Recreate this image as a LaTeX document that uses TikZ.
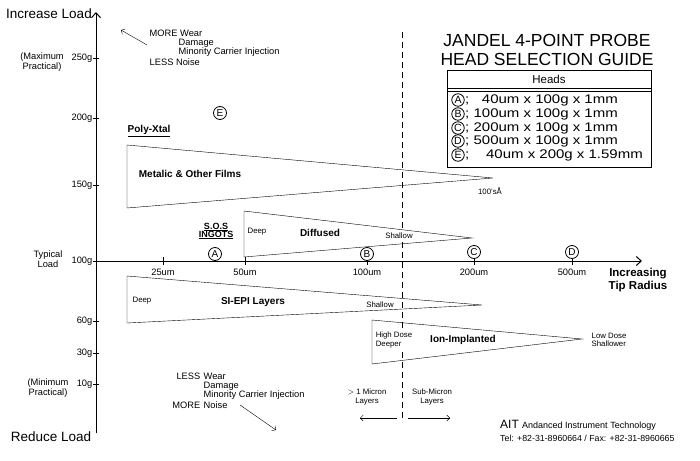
\documentclass[tikz,border=0pt]{standalone}
\usepackage{fontspec}
\setmainfont{Liberation Sans}
\usetikzlibrary{arrows.meta}
\begin{document}
\begin{tikzpicture}[x=1pt,y=-1pt,
 lbl/.style={font=\fontsize{9.3}{9.5}\selectfont,inner sep=0.5pt},
 sm/.style={font=\fontsize{7.8}{8.3}\selectfont,inner sep=0.5pt},
 bl/.style={font=\fontsize{10}{10.5}\selectfont\bfseries,inner sep=0.5pt},
 big/.style={font=\fontsize{13.5}{14}\selectfont,inner sep=0.5pt},
 circ/.style={circle,draw,thick,inner sep=0.6pt,minimum size=13pt,font=\fontsize{10}{10}\selectfont},
 tri/.style={draw,thin},
 ax/.style={line width=1pt}]
\useasboundingbox (0,0) rectangle (700,460);
% axes
\coordinate (o) at (96,261);
\coordinate (ytop) at (96,12);
\coordinate (ybot) at (96,433);
\coordinate (xend) at (642,261);
\draw[ax,-{Straight Barb[length=5pt,width=9pt]}] (ybot) -- (ytop);
\draw[ax,-{Straight Barb[length=5pt,width=9pt]}] (o) -- (xend);
\node[big] (inc) at (49,14) {Increase Load};
\node[big] (red) at (51,437) {Reduce Load};
% y ticks
\foreach \yy/\t in {58/250g,118/200g,185/150g,261/100g,321/60g,353/30g,384/10g}{
 \draw (93,\yy) -- (99,\yy);
 \node[lbl,anchor=east] at (93,\yy) {\t};}
\node[lbl,align=center] (mx) at (42,62) {(Maximum\\Practical)};
\node[lbl,align=center] (ty) at (48,259) {Typical\\Load};
\node[lbl,align=center] (mn) at (48,388) {(Minimum\\Practical)};
% x ticks
\foreach \xx/\t in {163/25um,245/50um,367/100um,474/200um,572/500um}{
 \draw (\xx,257) -- (\xx,265);
 \node[lbl] at (\xx,272) {\t};}
\node[font=\fontsize{11.5}{12.5}\selectfont\bfseries,align=center,inner sep=0pt] (itr) at (638,280) {Increasing\\Tip Radius};
% circled heads
\node[circ,fill=white] (A) at (215,254) {A};
\node[circ,fill=white] (B) at (367,254) {B};
\node[circ,fill=white] (C) at (474,252) {C};
\node[circ,fill=white] (D) at (572,252) {D};
\node[circ] (E) at (220,113) {E};
% triangles
\draw[tri,fill=white] (127,145) -- (493,178) -- (127,208) -- cycle;
\node[bl] (mf) at (190,174) {Metalic \& Other Films};
\node[sm] (hs) at (490,191) {100's\AA};
\node[bl,anchor=west] (px) at (127,131) {\underline{Poly-Xtal}};
\draw[tri,fill=white] (244,211) -- (472,238) -- (244,257) -- cycle;
\node[sm] at (257,232) {Deep};
\node[bl] at (320,233) {Diffused};
\node[bl,font=\fontsize{9}{9}\selectfont\bfseries,align=center] (sos) at (216,231) {\underline{S.O.S}\\[-1pt]\underline{INGOTS}};
\draw[tri,fill=white] (127,276) -- (482,305) -- (127,323) -- cycle;
\node[sm] at (142,301) {Deep};
\node[bl] at (253,302) {SI-EPI Layers};
\draw[tri,fill=white] (372,320) -- (582,339) -- (372,364) -- cycle;
\node[bl] at (463,340) {Ion-Implanted};
\node[sm,align=left] at (609,340) {Low Dose\\Shallower};
% dashed line
\coordinate (d1) at (402,32);
\coordinate (d2) at (402,422);
\draw[thick,dash pattern=on 6pt off 4pt] (d1) -- (d2);
\node[sm,fill=white,inner sep=1pt] at (399,236) {Shallow};
\node[sm,fill=white,inner sep=1pt] at (380,305) {Shallow};
\node[sm,align=left,fill=white,inner sep=1pt] at (394,340) {High Dose\\Deeper};
% layers
\node[sm,align=center] (m1) at (367,397) {$>$ 1 Micron\\Layers};
\node[sm,align=center] (sm1) at (432,397) {Sub-Micron\\Layers};
\coordinate (l1) at (397,418); \coordinate (l2) at (360,418);
\coordinate (r1) at (408,418); \coordinate (r2) at (450,418);
\draw[-{Straight Barb[length=3pt,width=6pt]}] (l1) -- (l2);
\draw[-{Straight Barb[length=3pt,width=6pt]}] (r1) -- (r2);
% annotations
\node[lbl,anchor=west] (mw) at (149,33) {MORE Wear};
\node[lbl,anchor=west] at (178,43) {Damage};
\node[lbl,anchor=west] at (178,52) {Minority Carrier Injection};
\node[lbl,anchor=west] (ln) at (149,62) {LESS Noise};
\coordinate (a1) at (147,45); \coordinate (a2) at (121,30);
\draw[-{Straight Barb[length=3pt,width=6pt]}] (a1) -- (a2);
\node[lbl,anchor=east] (lw) at (201,376) {LESS};
\node[lbl,anchor=west] at (203,376) {Wear};
\node[lbl,anchor=west] at (203,386) {Damage};
\node[lbl,anchor=west] at (203,395) {Minority Carrier Injection};
\node[lbl,anchor=east] at (201,405) {MORE};
\node[lbl,anchor=west] at (203,405) {Noise};
\coordinate (b1) at (240,405); \coordinate (b2) at (276,430);
\draw[-{Straight Barb[length=3pt,width=6pt]}] (b1) -- (b2);
% title & box
\node[font=\fontsize{17.5}{19}\selectfont,align=center,inner sep=0pt] (tt) at (547,50) {JANDEL 4-POINT PROBE\\HEAD SELECTION GUIDE};
\draw (447,70) rectangle (651,167);
\node[font=\fontsize{11.5}{11.5}\selectfont] (hd) at (549,79) {Heads};
\draw (447,88) -- (651,88); \draw (447,91) -- (651,91);
\foreach \yy/\l/\t in {100/A/\ \ 40um x 100g x 1mm,114/B/100um x 100g x 1mm,128/C/200um x 100g x 1mm,141/D/500um x 100g x 1mm,155/E/\ \ \ 40um x 200g x 1.59mm}{
 \node[circle,draw,thick,inner sep=0.3pt,minimum size=12.5pt,font=\fontsize{10.5}{10.5}\selectfont] at (458,\yy) {\l};
 \node[font=\fontsize{12.5}{12.5}\selectfont,anchor=west,inner sep=0pt,xscale=1.2,transform shape] at (465,\yy) {;\ \t};}
% footer
\node[anchor=west,inner sep=0pt,font=\fontsize{12}{12}\selectfont] (ait) at (500,425) {AIT {\fontsize{9}{9}\selectfont Andanced Instrument Technology}};
\node[anchor=west,inner sep=0pt,font=\fontsize{8.8}{9}\selectfont] (tel) at (500,438) {Tel: +82-31-8960664 / Fax: +82-31-8960665};
\end{tikzpicture}
\end{document}
